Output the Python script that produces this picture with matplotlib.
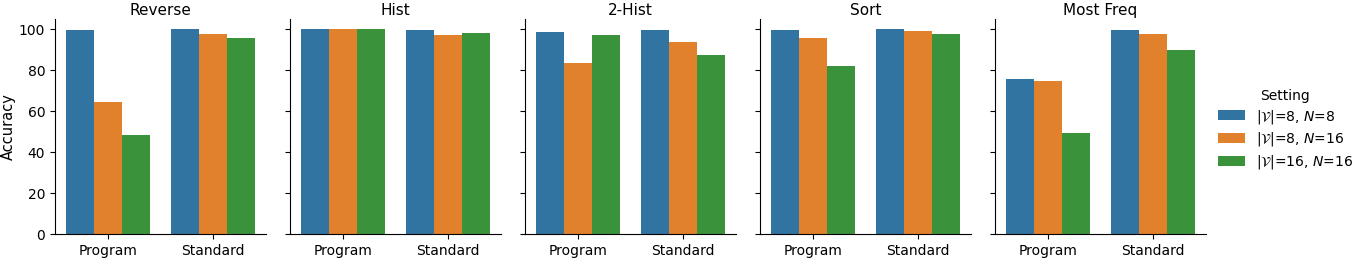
import matplotlib
matplotlib.use("Agg")
import matplotlib.pyplot as plt
import seaborn as sns
import pandas as pd

tasks = ["Reverse", "Hist", "2-Hist", "Sort", "Most Freq"]
methods = ["Program", "Standard"]
settings = [r"$|\mathcal{V}|$=8, $N$=8", r"$|\mathcal{V}|$=8, $N$=16", r"$|\mathcal{V}|$=16, $N$=16"]

reverse_prog = [99.8, 64.5, 48.4]
reverse_std = [100.0, 97.8, 95.8]
hist_prog = [100.0, 100.0, 100.0]
hist_std = [99.6, 97.1, 98.2]
hist2_prog = [98.8, 83.6, 97.3]
hist2_std = [99.8, 94.0, 87.5]
sort_prog = [99.7, 95.8, 82.2]
sort_std = [100.0, 99.0, 97.7]
freq_prog = [75.8, 74.8, 49.4]
freq_std = [99.8, 97.8, 90.0]

table = {
    "Reverse": (reverse_prog, reverse_std),
    "Hist": (hist_prog, hist_std),
    "2-Hist": (hist2_prog, hist2_std),
    "Sort": (sort_prog, sort_std),
    "Most Freq": (freq_prog, freq_std),
}

rows = []
for t in tasks:
    for m, vals in zip(methods, table[t]):
        for s, v in zip(settings, vals):
            rows.append({"Task": t, "Method": m, "Setting": s, "Accuracy": v})
df = pd.DataFrame(rows)

sns.set_style("ticks")
plt.rcParams["font.family"] = ["DejaVu Sans"]
for k in ["text.color", "axes.labelcolor", "xtick.color", "ytick.color", "axes.edgecolor"]:
    plt.rcParams[k] = "black"

g = sns.catplot(data=df, x="Method", y="Accuracy", hue="Setting", col="Task",
                kind="bar", col_order=tasks, order=methods, hue_order=settings,
                height=2.6, aspect=1.0, errorbar=None, palette="tab10",
                linewidth=0)
g.set_axis_labels("", "Accuracy")
g.axes.flat[0].set_ylabel("Accuracy", fontsize=10.5, labelpad=2)
for ax, t in zip(g.axes.flat, tasks):
    ax.set_title(t, fontsize=11, pad=3)
    ax.tick_params(labelsize=10)
    ax.set_ylim(0, 105)
fig = g.figure
fig.set_size_inches(13.57, 2.6)
fig.subplots_adjust(left=0.0405, right=0.8887, bottom=0.1, top=0.927, wspace=0.1137)
sns.move_legend(g, "center left", bbox_to_anchor=(0.888, 0.5), frameon=False,
                labelspacing=0.35)
fig.savefig("out.png", dpi=100)
